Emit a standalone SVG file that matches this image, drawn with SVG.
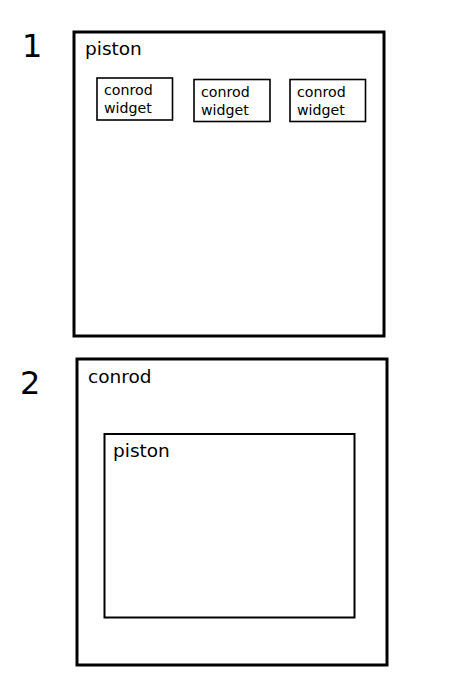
<svg xmlns="http://www.w3.org/2000/svg" width="474" height="695" viewBox="0 0 474 695">
<style>
text{font-family:"DejaVu Sans","Liberation Sans",sans-serif;fill:#000}
.num{font-size:32px}
.lbl{font-size:18.5px}
.w{font-size:14.2px}
rect.b{fill:#fff;stroke:#000}
.big{stroke-width:3}
.mid{stroke-width:2}
.sm{stroke-width:1.6}
</style>
<rect x="0" y="0" width="474" height="695" style="fill:#fff;stroke:none"/>
<text class="num" x="22" y="57">1</text>
<text class="num" x="20" y="394">2</text>
<g id="piston1">
<rect class="b big" x="74" y="32" width="310" height="304"/>
<text class="lbl" x="85" y="55">piston</text>
</g>
<g id="widget1">
<rect class="b sm" x="97" y="78" width="75.5" height="42"/>
<text class="w" x="104" y="95">conrod</text>
<text class="w" x="104" y="113">widget</text>
</g>
<g id="widget2">
<rect class="b sm" x="194" y="79.5" width="76" height="42"/>
<text class="w" x="201" y="97">conrod</text>
<text class="w" x="201" y="115">widget</text>
</g>
<g id="widget3">
<rect class="b sm" x="290" y="79.5" width="75.5" height="42"/>
<text class="w" x="297" y="97">conrod</text>
<text class="w" x="297" y="115">widget</text>
</g>
<g id="conrod2">
<rect class="b big" x="77" y="359" width="310" height="306"/>
<text class="lbl" x="88" y="383">conrod</text>
</g>
<g id="piston2">
<rect class="b mid" x="104.5" y="434" width="250" height="183.5"/>
<text class="lbl" x="113" y="457">piston</text>
</g>
<g id="connectors"/>
</svg>
